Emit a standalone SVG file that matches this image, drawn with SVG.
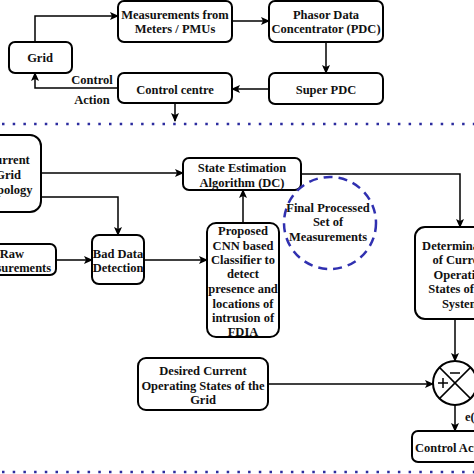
<svg xmlns="http://www.w3.org/2000/svg" width="474" height="474" viewBox="0 0 474 474">
<defs>
<marker id="ah" markerUnits="userSpaceOnUse" markerWidth="9" markerHeight="8" refX="8" refY="4" orient="auto">
<path d="M0,0 L9,4 L0,8 L2,4 Z" fill="#000"/>
</marker>
<style>
.box{fill:#fff;stroke:#000;stroke-width:2}
.t{font-family:"Liberation Serif","Times New Roman",serif;font-weight:bold;font-size:12.5px;fill:#111;text-anchor:middle}
.c{fill:none;stroke:#000;stroke-width:1.5;marker-end:url(#ah)}
.dots{stroke:#2b2b9e;stroke-width:2.5;stroke-dasharray:2.5 8.2}
</style>
</defs>
<rect width="474" height="474" fill="#fff"/>
<g id="separators">
<line class="dots" x1="2" y1="124" x2="474" y2="124"/>
<line class="dots" x1="2" y1="472" x2="474" y2="472"/>
</g>
<g id="connectors">
<polyline class="c" points="35,42 35,16 118,16"/>
<polyline class="c" points="232,21 269,21"/>
<polyline class="c" points="326,42 326,73"/>
<polyline class="c" points="269,89 232,89"/>
<polyline class="c" points="118,88 35,88 35,73"/>
<polyline class="c" points="175,103 175,121"/>
<polyline class="c" points="41,173 183,173"/>
<polyline class="c" points="41,197 118,197 118,235"/>
<polyline class="c" points="56,260 92,260"/>
<polyline class="c" points="144,260 207,260"/>
<polyline class="c" points="243,223 243,190"/>
<polyline class="c" points="301,174 460,174 460,227"/>
<polyline class="c" points="455,319 455,361"/>
<polyline class="c" points="268,384 433,384"/>
<polyline class="c" points="455,405 455,431"/>
<text class="t" x="92" y="83.5">Control</text>
<text class="t" x="92" y="103.5">Action</text>
<text class="t" x="465" y="421" style="text-anchor:start">e(t)</text>
</g>
<g id="grid">
<rect class="box" x="9" y="42" width="63" height="31" rx="6"/>
<text class="t" x="40" y="61.5">Grid</text>
</g>
<g id="measurements">
<rect class="box" x="118" y="1" width="114" height="41" rx="6"/>
<text class="t" x="175" y="18.5">Measurements from</text>
<text class="t" x="175" y="33">Meters / PMUs</text>
</g>
<g id="pdc">
<rect class="box" x="269" y="1" width="114" height="41" rx="6"/>
<text class="t" x="326" y="18.5">Phasor Data</text>
<text class="t" x="326" y="33">Concentrator (PDC)</text>
</g>
<g id="control-centre">
<rect class="box" x="118" y="73" width="114" height="30" rx="6"/>
<text class="t" x="175" y="93.5">Control centre</text>
</g>
<g id="super-pdc">
<rect class="box" x="269" y="73" width="114" height="31" rx="6"/>
<text class="t" x="326" y="93.5">Super PDC</text>
</g>
<g id="topology">
<rect class="box" x="-20" y="135" width="61" height="77" rx="11"/>
<text class="t" x="8" y="164">Current</text>
<text class="t" x="8" y="178.5">Grid</text>
<text class="t" x="8" y="193.5">Topology</text>
</g>
<g id="raw">
<rect class="box" x="-30" y="244" width="86" height="31" rx="6"/>
<text class="t" x="12" y="257.5">Raw</text>
<text class="t" x="12" y="271.5">Measurements</text>
</g>
<g id="bad-data">
<rect class="box" x="92" y="235" width="52" height="49" rx="7"/>
<text class="t" x="118" y="257.5">Bad Data</text>
<text class="t" x="118" y="271.5">Detection</text>
</g>
<g id="state-estimation">
<rect class="box" x="183" y="158" width="118" height="32" rx="6"/>
<text class="t" x="242" y="171.5">State Estimation</text>
<text class="t" x="242" y="186.5">Algorithm (DC)</text>
</g>
<g id="cnn">
<rect class="box" x="207" y="223" width="72" height="114" rx="9"/>
<text class="t" x="243" y="234.5">Proposed</text>
<text class="t" x="243" y="249.5">CNN based</text>
<text class="t" x="243" y="263.5">Classifier to</text>
<text class="t" x="243" y="277.5">detect</text>
<text class="t" x="243" y="292.5">presence and</text>
<text class="t" x="243" y="307.5">locations of</text>
<text class="t" x="243" y="321.5">intrusion of</text>
<text class="t" x="243" y="336">FDIA</text>
</g>
<g id="final-set">
<circle cx="330" cy="223" r="46" fill="none" stroke="#3030b0" stroke-width="2.5" stroke-dasharray="9 6"/>
<text class="t" x="328" y="211.5">Final Processed</text>
<text class="t" x="328" y="225.5">Set of</text>
<text class="t" x="328" y="240.5">Measurements</text>
</g>
<g id="determination">
<rect class="box" x="415" y="227" width="80" height="92" rx="10"/>
<text class="t" x="461" y="249.5">Determination</text>
<text class="t" x="461" y="263.5">of Current</text>
<text class="t" x="461" y="278.5">Operating</text>
<text class="t" x="461" y="292.5">States of the</text>
<text class="t" x="461" y="307.5">System</text>
</g>
<g id="desired">
<rect class="box" x="138" y="358" width="130" height="52" rx="8"/>
<text class="t" x="203" y="374.5">Desired Current</text>
<text class="t" x="203" y="389.5">Operating States of the</text>
<text class="t" x="203" y="403.5">Grid</text>
</g>
<g id="summer">
<circle cx="455" cy="383" r="22" fill="#fff" stroke="#000" stroke-width="2"/>
<line x1="439.4" y1="367.4" x2="470.6" y2="398.6" stroke="#000" stroke-width="1.5"/>
<line x1="439.4" y1="398.6" x2="470.6" y2="367.4" stroke="#000" stroke-width="1.5"/>
<line x1="450" y1="373" x2="460" y2="373" stroke="#000" stroke-width="1.5"/>
<line x1="438" y1="383" x2="448" y2="383" stroke="#000" stroke-width="1.5"/>
<line x1="443" y1="378" x2="443" y2="388" stroke="#000" stroke-width="1.5"/>
</g>
<g id="control-action">
<rect class="box" x="412" y="431" width="90" height="31" rx="6"/>
<text class="t" x="415" y="451.5" style="text-anchor:start">Control Action</text>
</g>
</svg>
